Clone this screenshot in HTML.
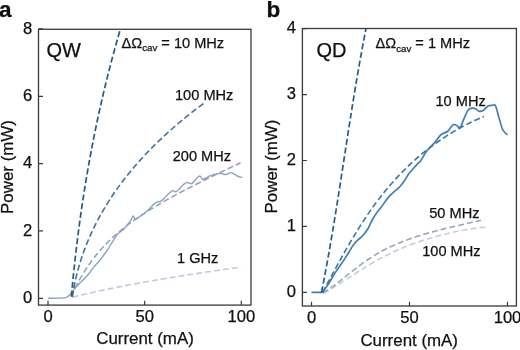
<!DOCTYPE html>
<html><head><meta charset="utf-8"><title>Power vs Current</title>
<style>html,body{margin:0;padding:0;background:#fff;}body{width:520px;height:350px;overflow:hidden;}svg{display:block;}</style>
</head><body>
<svg width="520" height="350" viewBox="0 0 520 350" font-family="'Liberation Sans', Arial, Helvetica, sans-serif">
<rect width="520" height="350" fill="#ffffff"/>
<defs><clipPath id="ca"><rect x="38.5" y="29.3" width="212.5" height="275.5"/></clipPath><clipPath id="cb"><rect x="302.4" y="28.5" width="214" height="277.5"/></clipPath></defs>
<g fill="none" stroke-linejoin="round">
<path d="M72.49,297.18 L74.60,296.66 L76.70,296.15 L78.81,295.65 L80.92,295.15 L83.03,294.65 L85.14,294.16 L87.25,293.67 L89.36,293.19 L91.48,292.71 L93.59,292.23 L95.71,291.77 L97.82,291.30 L99.94,290.84 L102.06,290.38 L104.17,289.93 L106.29,289.49 L108.41,289.04 L110.53,288.60 L112.66,288.17 L114.78,287.74 L116.90,287.31 L119.03,286.88 L121.15,286.46 L123.28,286.05 L125.40,285.63 L127.53,285.22 L129.66,284.82 L131.79,284.42 L133.92,284.02 L136.05,283.62 L138.18,283.23 L140.31,282.84 L142.44,282.46 L144.57,282.07 L146.70,281.69 L148.84,281.32 L150.97,280.94 L153.10,280.57 L155.24,280.20 L157.38,279.84 L159.51,279.48 L161.65,279.12 L163.78,278.76 L165.92,278.40 L168.06,278.05 L170.20,277.70 L172.34,277.35 L174.48,277.01 L176.61,276.66 L178.75,276.32 L180.89,275.99 L183.03,275.65 L185.18,275.31 L187.32,274.98 L189.46,274.65 L191.60,274.32 L193.74,273.99 L195.88,273.67 L198.03,273.34 L200.17,273.02 L202.31,272.70 L204.45,272.38 L206.60,272.06 L208.74,271.75 L210.88,271.43 L213.03,271.12 L215.17,270.80 L217.32,270.49 L219.46,270.18 L221.60,269.87 L223.75,269.56 L225.89,269.25 L228.04,268.95 L230.18,268.64 L232.32,268.33 L234.47,268.03 L236.61,267.72 L238.76,267.42 L240.90,267.12" stroke="#c6c7de" stroke-width="1.6" stroke-dasharray="6,3" clip-path="url(#ca)"/>
<path d="M71.34,296.51 L72.45,293.94 L73.59,291.39 L74.78,288.86 L76.01,286.35 L77.29,283.85 L78.60,281.38 L79.95,278.93 L81.35,276.50 L82.78,274.10 L84.26,271.72 L85.77,269.36 L87.32,267.03 L88.90,264.72 L90.53,262.44 L92.19,260.18 L93.89,257.96 L95.62,255.76 L97.39,253.59 L99.19,251.45 L101.03,249.34 L102.90,247.26 L104.80,245.21 L106.74,243.20 L108.71,241.22 L110.71,239.27 L112.74,237.36 L114.81,235.47 L116.90,233.62 L119.02,231.81 L121.17,230.02 L123.34,228.26 L125.53,226.53 L127.76,224.83 L130.00,223.16 L132.26,221.51 L134.55,219.88 L136.85,218.28 L139.17,216.70 L141.51,215.15 L143.86,213.61 L146.23,212.10 L148.61,210.60 L151.01,209.13 L153.41,207.67 L155.82,206.22 L158.25,204.80 L160.68,203.38 L163.12,201.98 L165.56,200.60 L168.01,199.22 L170.46,197.86 L172.92,196.51 L175.38,195.17 L177.84,193.84 L180.31,192.52 L182.79,191.21 L185.27,189.91 L187.75,188.61 L190.24,187.33 L192.73,186.05 L195.22,184.79 L197.72,183.53 L200.22,182.27 L202.72,181.02 L205.22,179.78 L207.73,178.54 L210.24,177.31 L212.76,176.09 L215.28,174.86 L217.79,173.65 L220.32,172.43 L222.84,171.22 L225.36,170.01 L227.89,168.80 L230.42,167.60 L232.95,166.39 L235.48,165.19 L238.02,163.99 L240.55,162.78" stroke="#8c9fbd" stroke-width="1.5" stroke-dasharray="6,3" clip-path="url(#ca)"/>
<path d="M48.00,298.30 C50.67,298.23 60.65,298.22 64.00,297.90 C67.35,297.58 67.07,297.00 68.10,296.40 C69.13,295.80 69.52,295.08 70.20,294.30 C70.88,293.52 71.35,292.73 72.20,291.70 C73.05,290.67 74.10,289.47 75.30,288.10 C76.50,286.73 77.85,285.12 79.40,283.50 C80.95,281.88 82.88,280.20 84.60,278.40 C86.32,276.60 88.17,274.58 89.70,272.70 C91.23,270.82 92.17,269.12 93.80,267.10 C95.43,265.08 97.18,263.52 99.50,260.60 C101.82,257.68 105.77,252.37 107.70,249.60 C109.63,246.83 109.95,245.87 111.10,244.00 C112.25,242.13 113.60,239.97 114.60,238.40 C115.60,236.83 116.10,235.73 117.10,234.60 C118.10,233.47 119.45,232.53 120.60,231.60 C121.75,230.67 122.83,230.17 124.00,229.00 C125.17,227.83 126.43,226.08 127.60,224.60 C128.77,223.12 130.08,221.55 131.00,220.10 C131.92,218.65 132.38,216.03 133.10,215.90 C133.82,215.77 134.22,219.17 135.30,219.30 C136.38,219.43 138.17,217.63 139.60,216.70 C141.03,215.77 142.48,214.83 143.90,213.70 C145.32,212.57 146.82,211.12 148.10,209.90 C149.38,208.68 150.60,207.40 151.60,206.40 C152.60,205.40 153.20,204.62 154.10,203.90 C155.00,203.18 155.95,202.53 157.00,202.10 C158.05,201.67 159.25,201.87 160.40,201.30 C161.55,200.73 162.75,199.77 163.90,198.70 C165.05,197.63 166.20,196.00 167.30,194.90 C168.40,193.80 169.62,192.82 170.50,192.10 C171.38,191.38 171.68,190.63 172.60,190.60 C173.52,190.57 174.87,192.18 176.00,191.90 C177.13,191.62 178.25,190.05 179.40,188.90 C180.55,187.75 181.62,186.08 182.90,185.00 C184.18,183.92 185.68,182.62 187.10,182.40 C188.52,182.18 189.97,184.20 191.40,183.70 C192.83,183.20 194.40,180.67 195.70,179.40 C197.00,178.13 198.25,176.38 199.20,176.10 C200.15,175.82 200.82,177.15 201.40,177.70 C201.98,178.25 201.62,179.53 202.70,179.40 C203.78,179.27 206.33,177.62 207.90,176.90 C209.47,176.18 210.68,175.60 212.10,175.10 C213.52,174.60 214.85,174.18 216.40,173.90 C217.95,173.62 220.13,173.33 221.40,173.40 C222.67,173.47 223.13,174.15 224.00,174.30 C224.87,174.45 225.45,174.58 226.60,174.30 C227.75,174.02 229.48,172.53 230.90,172.60 C232.32,172.67 233.68,173.98 235.10,174.70 C236.52,175.42 238.18,176.43 239.40,176.90 C240.62,177.37 241.90,177.40 242.40,177.50" stroke="#8aa2c4" stroke-width="1.4" clip-path="url(#ca)"/>
<path d="M72.32,297.02 L72.79,293.91 L73.31,290.81 L73.87,287.73 L74.46,284.66 L75.10,281.61 L75.78,278.58 L76.50,275.57 L77.26,272.57 L78.05,269.59 L78.88,266.63 L79.75,263.68 L80.66,260.75 L81.60,257.84 L82.58,254.95 L83.60,252.07 L84.65,249.21 L85.74,246.36 L86.86,243.54 L88.02,240.73 L89.21,237.93 L90.43,235.16 L91.68,232.40 L92.97,229.66 L94.29,226.93 L95.65,224.22 L97.03,221.53 L98.44,218.86 L99.89,216.20 L101.36,213.56 L102.87,210.94 L104.40,208.33 L105.97,205.74 L107.56,203.17 L109.18,200.61 L110.82,198.07 L112.50,195.55 L114.20,193.05 L115.92,190.56 L117.68,188.09 L119.45,185.63 L121.26,183.19 L123.09,180.77 L124.94,178.37 L126.81,175.98 L128.71,173.61 L130.64,171.26 L132.58,168.92 L134.55,166.60 L136.54,164.30 L138.55,162.02 L140.58,159.75 L142.63,157.49 L144.70,155.26 L146.79,153.04 L148.90,150.84 L151.03,148.66 L153.18,146.49 L155.35,144.34 L157.53,142.20 L159.73,140.09 L161.95,137.99 L164.18,135.90 L166.43,133.84 L168.69,131.79 L170.97,129.75 L173.27,127.74 L175.58,125.74 L177.90,123.75 L180.24,121.79 L182.59,119.84 L184.95,117.91 L187.32,115.99 L189.71,114.09 L192.10,112.21 L194.51,110.35 L196.93,108.50 L199.36,106.67 L201.80,104.85 L204.24,103.05" stroke="#3d72a0" stroke-width="1.6" stroke-dasharray="6,3" clip-path="url(#ca)"/>
<path d="M71.37,296.54 L71.68,293.11 L71.99,289.68 L72.31,286.25 L72.64,282.82 L72.98,279.39 L73.32,275.96 L73.67,272.54 L74.03,269.11 L74.39,265.68 L74.77,262.26 L75.14,258.84 L75.53,255.41 L75.93,251.99 L76.33,248.57 L76.74,245.15 L77.16,241.73 L77.58,238.31 L78.01,234.90 L78.45,231.48 L78.90,228.06 L79.36,224.65 L79.82,221.24 L80.29,217.83 L80.77,214.42 L81.26,211.01 L81.75,207.60 L82.26,204.19 L82.77,200.79 L83.29,197.38 L83.81,193.98 L84.35,190.58 L84.89,187.18 L85.44,183.78 L86.01,180.38 L86.57,176.99 L87.15,173.59 L87.74,170.20 L88.33,166.81 L88.93,163.42 L89.54,160.03 L90.16,156.64 L90.79,153.26 L91.42,149.87 L92.07,146.49 L92.72,143.11 L93.38,139.73 L94.06,136.35 L94.74,132.98 L95.42,129.61 L96.12,126.23 L96.83,122.86 L97.54,119.49 L98.27,116.13 L99.00,112.76 L99.74,109.40 L100.49,106.04 L101.25,102.68 L102.02,99.32 L102.80,95.97 L103.59,92.61 L104.39,89.26 L105.19,85.91 L106.01,82.57 L106.83,79.22 L107.67,75.88 L108.51,72.54 L109.37,69.20 L110.23,65.86 L111.10,62.53 L111.98,59.19 L112.87,55.86 L113.78,52.53 L114.69,49.21 L115.61,45.89 L116.54,42.56 L117.48,39.25 L118.43,35.93 L119.39,32.61 L120.36,29.30" stroke="#235a86" stroke-width="1.7" stroke-dasharray="6,2.8" clip-path="url(#ca)"/>
<path d="M323.43,293.14 L325.42,292.07 L327.39,290.98 L329.35,289.87 L331.31,288.74 L333.25,287.59 L335.19,286.42 L337.12,285.24 L339.05,284.05 L340.97,282.85 L342.88,281.63 L344.80,280.41 L346.71,279.18 L348.61,277.94 L350.52,276.71 L352.43,275.47 L354.34,274.23 L356.25,272.99 L358.16,271.76 L360.07,270.53 L361.99,269.31 L363.92,268.09 L365.85,266.89 L367.79,265.70 L369.73,264.52 L371.69,263.36 L373.65,262.21 L375.62,261.08 L377.60,259.97 L379.60,258.88 L381.60,257.81 L383.62,256.75 L385.64,255.72 L387.67,254.70 L389.71,253.70 L391.76,252.72 L393.82,251.76 L395.89,250.82 L397.97,249.90 L400.06,248.99 L402.15,248.10 L404.25,247.23 L406.36,246.38 L408.48,245.54 L410.60,244.73 L412.73,243.93 L414.87,243.15 L417.02,242.38 L419.17,241.63 L421.33,240.90 L423.49,240.19 L425.66,239.50 L427.84,238.82 L430.02,238.16 L432.21,237.51 L434.40,236.88 L436.60,236.27 L438.80,235.68 L441.01,235.10 L443.22,234.54 L445.44,234.00 L447.66,233.47 L449.88,232.96 L452.11,232.46 L454.35,231.98 L456.58,231.52 L458.82,231.07 L461.06,230.64 L463.31,230.22 L465.55,229.82 L467.80,229.44 L470.05,229.07 L472.31,228.71 L474.56,228.37 L476.82,228.05 L479.08,227.74 L481.34,227.45 L483.60,227.17 L485.86,226.91 L488.13,226.66" stroke="#cecad6" stroke-width="1.6" stroke-dasharray="6,3" clip-path="url(#cb)"/>
<path d="M322.93,292.90 L324.82,291.78 L326.68,290.61 L328.52,289.40 L330.34,288.15 L332.14,286.87 L333.93,285.56 L335.70,284.23 L337.47,282.87 L339.22,281.51 L340.98,280.13 L342.73,278.74 L344.48,277.35 L346.23,275.95 L347.98,274.56 L349.74,273.17 L351.50,271.78 L353.27,270.40 L355.04,269.02 L356.82,267.66 L358.61,266.30 L360.40,264.96 L362.21,263.64 L364.02,262.33 L365.85,261.04 L367.69,259.77 L369.54,258.52 L371.41,257.30 L373.29,256.10 L375.19,254.94 L377.10,253.80 L379.03,252.69 L380.98,251.60 L382.94,250.55 L384.92,249.52 L386.91,248.51 L388.91,247.53 L390.92,246.58 L392.95,245.65 L394.99,244.74 L397.05,243.85 L399.11,242.99 L401.18,242.15 L403.27,241.33 L405.36,240.52 L407.47,239.74 L409.58,238.98 L411.70,238.23 L413.83,237.51 L415.96,236.80 L418.10,236.10 L420.25,235.43 L422.41,234.76 L424.57,234.11 L426.73,233.48 L428.90,232.86 L431.07,232.25 L433.25,231.65 L435.43,231.07 L437.61,230.49 L439.80,229.93 L441.99,229.38 L444.17,228.83 L446.36,228.29 L448.55,227.76 L450.74,227.24 L452.93,226.73 L455.11,226.22 L457.30,225.71 L459.48,225.21 L461.66,224.72 L463.84,224.22 L466.01,223.73 L468.18,223.25 L470.34,222.76 L472.50,222.28 L474.66,221.79 L476.81,221.31 L478.95,220.82 L481.08,220.33" stroke="#95a8be" stroke-width="1.6" stroke-dasharray="6,3" clip-path="url(#cb)"/>
<path d="M311.50,292.30 C313.17,292.30 319.63,292.40 321.50,292.30 C323.37,292.20 321.72,292.82 322.70,291.70 C323.68,290.58 325.17,288.98 327.40,285.60 C329.63,282.22 333.22,275.85 336.10,271.40 C338.98,266.95 341.88,263.23 344.70,258.90 C347.52,254.57 350.68,248.67 353.00,245.40 C355.32,242.13 356.92,240.98 358.60,239.30 C360.28,237.62 361.58,237.02 363.10,235.30 C364.62,233.58 366.37,231.20 367.70,229.00 C369.03,226.80 370.22,223.82 371.10,222.10 C371.98,220.38 372.20,220.07 373.00,218.70 C373.80,217.33 374.38,216.03 375.90,213.90 C377.42,211.77 380.10,208.57 382.10,205.90 C384.10,203.23 386.18,200.00 387.90,197.90 C389.62,195.80 390.88,194.73 392.40,193.30 C393.92,191.87 395.73,190.43 397.00,189.30 C398.27,188.17 398.78,187.88 400.00,186.50 C401.22,185.12 402.87,183.07 404.30,181.00 C405.73,178.93 407.17,176.10 408.60,174.10 C410.03,172.10 411.48,170.63 412.90,169.00 C414.32,167.37 415.82,165.65 417.10,164.30 C418.38,162.95 419.12,162.95 420.60,160.90 C422.08,158.85 424.43,154.27 426.00,152.00 C427.57,149.73 428.52,148.90 430.00,147.30 C431.48,145.70 433.27,144.30 434.90,142.40 C436.53,140.50 438.43,137.40 439.80,135.90 C441.17,134.40 441.73,134.22 443.10,133.40 C444.47,132.58 446.37,132.42 448.00,131.00 C449.63,129.58 451.53,125.87 452.90,124.90 C454.27,123.93 454.98,124.78 456.20,125.20 C457.42,125.62 458.85,128.62 460.20,127.40 C461.55,126.18 462.93,120.85 464.30,117.90 C465.67,114.95 467.03,111.33 468.40,109.70 C469.77,108.07 471.27,108.23 472.50,108.10 C473.73,107.97 474.72,108.37 475.80,108.90 C476.88,109.43 477.78,111.03 479.00,111.30 C480.22,111.57 481.60,111.37 483.10,110.50 C484.60,109.63 486.50,106.97 488.00,106.10 C489.50,105.23 490.87,105.38 492.10,105.30 C493.33,105.22 494.32,103.78 495.40,105.60 C496.48,107.42 497.52,112.52 498.60,116.20 C499.68,119.88 500.93,125.07 501.90,127.70 C502.87,130.33 503.47,130.82 504.40,132.00 C505.33,133.18 506.98,134.33 507.50,134.80" stroke="#407fb3" stroke-width="1.7" clip-path="url(#cb)"/>
<path d="M322.54,292.50 L323.99,289.81 L325.45,287.11 L326.90,284.41 L328.36,281.71 L329.82,279.00 L331.28,276.29 L332.75,273.58 L334.23,270.87 L335.70,268.16 L337.19,265.44 L338.68,262.73 L340.18,260.02 L341.69,257.32 L343.20,254.61 L344.73,251.91 L346.27,249.22 L347.81,246.53 L349.37,243.85 L350.94,241.17 L352.52,238.50 L354.12,235.84 L355.73,233.19 L357.35,230.55 L359.00,227.92 L360.65,225.30 L362.32,222.69 L364.01,220.10 L365.72,217.51 L367.45,214.95 L369.19,212.39 L370.96,209.86 L372.75,207.33 L374.55,204.83 L376.38,202.34 L378.24,199.87 L380.11,197.43 L382.01,195.00 L383.93,192.59 L385.88,190.20 L387.85,187.83 L389.85,185.49 L391.87,183.17 L393.92,180.87 L396.00,178.59 L398.09,176.34 L400.22,174.11 L402.36,171.90 L404.54,169.72 L406.73,167.57 L408.96,165.44 L411.20,163.34 L413.47,161.26 L415.77,159.21 L418.09,157.19 L420.43,155.19 L422.80,153.22 L425.19,151.28 L427.61,149.37 L430.05,147.49 L432.52,145.64 L435.01,143.81 L437.52,142.02 L440.06,140.26 L442.62,138.52 L445.21,136.82 L447.82,135.16 L450.46,133.52 L453.11,131.91 L455.80,130.34 L458.50,128.80 L461.23,127.30 L463.99,125.83 L466.76,124.39 L469.56,122.99 L472.39,121.62 L475.24,120.29 L478.11,119.00 L481.00,117.74 L483.92,116.52" stroke="#3b74a5" stroke-width="1.6" stroke-dasharray="6,3" clip-path="url(#cb)"/>
<path d="M321.50,292.30 L322.16,288.98 L322.81,285.65 L323.46,282.33 L324.10,279.00 L324.73,275.67 L325.36,272.35 L325.98,269.02 L326.59,265.69 L327.20,262.36 L327.80,259.02 L328.40,255.69 L328.99,252.35 L329.58,249.02 L330.16,245.68 L330.74,242.35 L331.31,239.01 L331.87,235.67 L332.44,232.33 L333.00,228.99 L333.55,225.65 L334.10,222.31 L334.65,218.97 L335.19,215.63 L335.73,212.28 L336.27,208.94 L336.81,205.59 L337.34,202.25 L337.87,198.91 L338.40,195.56 L338.92,192.21 L339.44,188.87 L339.97,185.52 L340.49,182.18 L341.01,178.83 L341.52,175.48 L342.04,172.14 L342.56,168.79 L343.07,165.44 L343.59,162.09 L344.10,158.75 L344.62,155.40 L345.13,152.05 L345.65,148.70 L346.17,145.36 L346.68,142.01 L347.20,138.66 L347.72,135.32 L348.24,131.97 L348.76,128.62 L349.28,125.28 L349.81,121.93 L350.34,118.59 L350.87,115.24 L351.40,111.90 L351.93,108.55 L352.47,105.21 L353.01,101.87 L353.55,98.52 L354.10,95.18 L354.65,91.84 L355.20,88.50 L355.76,85.16 L356.32,81.82 L356.89,78.48 L357.46,75.14 L358.03,71.80 L358.61,68.47 L359.20,65.13 L359.79,61.80 L360.38,58.46 L360.98,55.13 L361.59,51.80 L362.20,48.47 L362.82,45.14 L363.45,41.81 L364.08,38.48 L364.72,35.15 L365.36,31.83 L366.01,28.50" stroke="#235e8c" stroke-width="1.7" stroke-dasharray="6,2.8" clip-path="url(#cb)"/>
</g>
<rect x="38.5" y="29.3" width="212.5" height="275.8" fill="none" stroke="#3a3a3a" stroke-width="1.3"/>
<rect x="302.4" y="28.5" width="214" height="277.5" fill="none" stroke="#3a3a3a" stroke-width="1.3"/>
<path d="M38.5,298.30h4.5 M38.5,230.96h4.5 M38.5,163.62h4.5 M38.5,96.28h4.5 M38.5,28.94h4.5 M48.00,305.1v-4.3 M144.65,305.1v-4.3 M241.30,305.1v-4.3 M302.4,292.30h4.5 M302.4,226.40h4.5 M302.4,160.50h4.5 M302.4,94.60h4.5 M302.4,28.70h4.5 M311.50,306v-4.3 M409.50,306v-4.3 M507.50,306v-4.3" stroke="#3a3a3a" stroke-width="1.2" fill="none"/>
<g fill="#111" stroke="#111" stroke-width="0.25">
<text x="32.3" y="302.9" font-size="16.6" text-anchor="end">0</text>
<text x="32.3" y="235.56" font-size="16.6" text-anchor="end">2</text>
<text x="32.3" y="168.22" font-size="16.6" text-anchor="end">4</text>
<text x="32.3" y="100.88" font-size="16.6" text-anchor="end">6</text>
<text x="32.3" y="33.54" font-size="16.6" text-anchor="end">8</text>
<text x="296" y="296.9" font-size="16.6" text-anchor="end">0</text>
<text x="296" y="231.0" font-size="16.6" text-anchor="end">1</text>
<text x="296" y="165.1" font-size="16.6" text-anchor="end">2</text>
<text x="296" y="99.2" font-size="16.6" text-anchor="end">3</text>
<text x="296" y="33.3" font-size="16.6" text-anchor="end">4</text>
<text x="48.0" y="321.6" font-size="16.6" text-anchor="middle">0</text>
<text x="311.5" y="322.6" font-size="16.6" text-anchor="middle">0</text>
<text x="144.65" y="321.6" font-size="16.6" text-anchor="middle">50</text>
<text x="409.5" y="322.6" font-size="16.6" text-anchor="middle">50</text>
<text x="241.3" y="321.6" font-size="16.6" text-anchor="middle">100</text>
<text x="507.5" y="322.6" font-size="16.6" text-anchor="middle">100</text>
<text x="145" y="344.3" font-size="16.9" text-anchor="middle">Current (mA)</text>
<text x="409.2" y="346.4" font-size="16.9" text-anchor="middle">Current (mA)</text>
<text transform="translate(12.9,167) rotate(-90)" font-size="16.9" text-anchor="middle">Power (mW)</text>
<text transform="translate(276.8,166.5) rotate(-90)" font-size="16.9" text-anchor="middle">Power (mW)</text>
<text x="-0.9" y="16.9" font-size="22.5" text-anchor="start" font-weight="bold">a</text>
<text x="266.6" y="17.0" font-size="22.5" text-anchor="start" font-weight="bold">b</text>
<text x="46.5" y="56.5" font-size="20" text-anchor="start">QW</text>
<text x="316.5" y="56.5" font-size="20" text-anchor="start">QD</text>
<text x="121.5" y="47.6" font-size="14.6" text-anchor="start">ΔΩ<tspan font-size="9.7" dy="3.8">cav</tspan><tspan dy="-3.8"> = 10 MHz</tspan></text>
<text x="375.5" y="47.7" font-size="14.6" text-anchor="start">ΔΩ<tspan font-size="9.7" dy="3.8">cav</tspan><tspan dy="-3.8"> = 1 MHz</tspan></text>
<text x="175" y="100" font-size="14.6" text-anchor="start">100 MHz</text>
<text x="172.7" y="161.1" font-size="14.6" text-anchor="start">200 MHz</text>
<text x="177" y="263" font-size="14.6" text-anchor="start">1 GHz</text>
<text x="435.5" y="105.6" font-size="14.6" text-anchor="start">10 MHz</text>
<text x="429.2" y="217.6" font-size="14.6" text-anchor="start">50 MHz</text>
<text x="422.2" y="256.4" font-size="14.6" text-anchor="start">100 MHz</text>
</g>
</svg>
</body></html>
